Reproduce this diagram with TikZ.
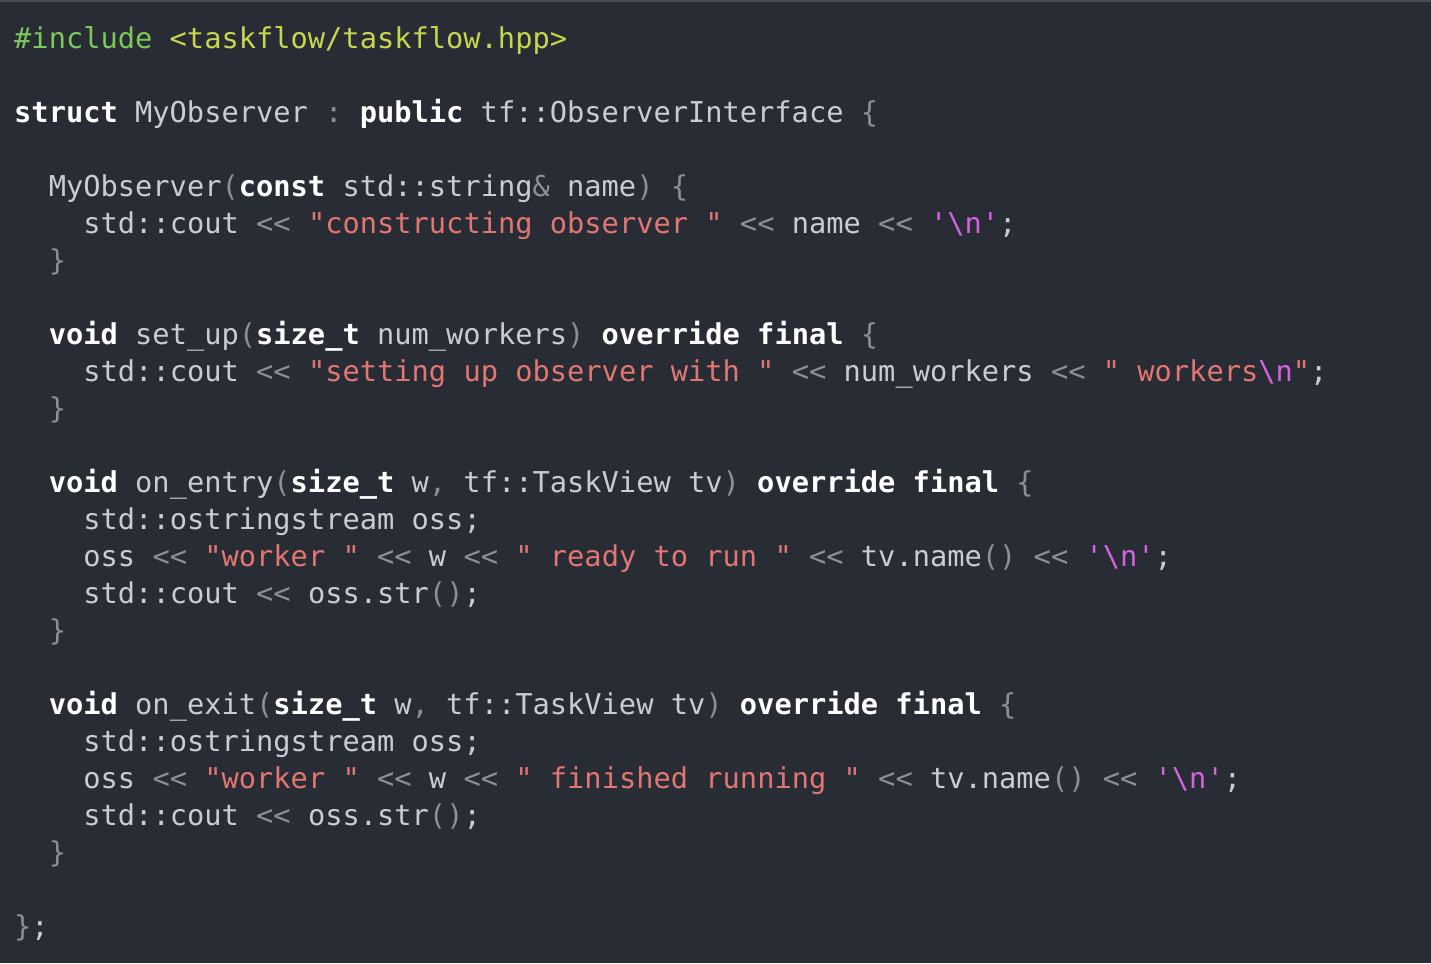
\documentclass[tikz,border=0pt]{standalone}
\usepackage{fontspec}
\newfontfamily\codefont{DejaVu Sans Mono}
\definecolor{bg}{HTML}{282C34}
\definecolor{fg}{HTML}{C8CCD4}
\definecolor{kwc}{HTML}{FFFFFF}
\definecolor{strc}{HTML}{E27672}
\definecolor{nlc}{HTML}{D563E0}
\definecolor{pnc}{HTML}{8A909A}
\definecolor{grn}{HTML}{7EC85A}
\definecolor{ylw}{HTML}{C8D64E}
\newcommand{\kw}[1]{{\bfseries\color{kwc}#1}}
\newcommand{\st}[1]{{\color{strc}#1}}
\newcommand{\nlx}[1]{{\color{nlc}#1}}
\newcommand{\pn}[1]{{\color{pnc}#1}}
\newcommand{\aq}{\symbol{39}}
\newcommand{\NL}{\nlx{\aq\textbackslash n\aq}}
\begin{document}
\begin{tikzpicture}[x=1pt,y=-1pt,
  ln/.style={anchor=base west,inner sep=0pt,font=\codefont\fontsize{28.7}{30}\selectfont\frenchspacing,text=fg}]
\fill[bg] (0,0) rectangle (1431,963);
\fill[bg!85!white] (0,0) rectangle (1431,2);
\def\cw{17.3}
\node[ln] (l1) at (14,49) {{\color{grn}\#include} {\color{ylw}<taskflow/taskflow.hpp>}};
\node[ln] (l2) at (14,122) {\kw{struct} MyObserver \pn{:} \kw{public} tf::ObserverInterface \pn{\{}};
\node[ln] (l3) at (14+2*\cw,196) {MyObserver\pn{(}\kw{const} std::string\pn{\&} name\pn{)} \pn{\{}};
\node[ln] (l4) at (14+4*\cw,233) {std::cout \pn{<<} \st{"constructing observer "} \pn{<<} name \pn{<<} \NL;};
\node[ln] (l5) at (14+2*\cw,270) {\pn{\}}};
\node[ln] (l6) at (14+2*\cw,344) {\kw{void} set\_up\pn{(}\kw{size\_t} num\_workers\pn{)} \kw{override} \kw{final} \pn{\{}};
\node[ln] (l7) at (14+4*\cw,381) {std::cout \pn{<<} \st{"setting up observer with "} \pn{<<} num\_workers \pn{<<} \st{" workers}\nlx{\textbackslash n}\st{"};};
\node[ln] (l8) at (14+2*\cw,418) {\pn{\}}};
\node[ln] (l9) at (14+2*\cw,492) {\kw{void} on\_entry\pn{(}\kw{size\_t} w\pn{,} tf::TaskView tv\pn{)} \kw{override} \kw{final} \pn{\{}};
\node[ln] (l10) at (14+4*\cw,529) {std::ostringstream oss;};
\node[ln] (l11) at (14+4*\cw,566) {oss \pn{<<} \st{"worker "} \pn{<<} w \pn{<<} \st{" ready to run "} \pn{<<} tv.name\pn{()} \pn{<<} \NL;};
\node[ln] (l12) at (14+4*\cw,603) {std::cout \pn{<<} oss.str\pn{()};};
\node[ln] (l13) at (14+2*\cw,640) {\pn{\}}};
\node[ln] (l14) at (14+2*\cw,714) {\kw{void} on\_exit\pn{(}\kw{size\_t} w\pn{,} tf::TaskView tv\pn{)} \kw{override} \kw{final} \pn{\{}};
\node[ln] (l15) at (14+4*\cw,751) {std::ostringstream oss;};
\node[ln] (l16) at (14+4*\cw,788) {oss \pn{<<} \st{"worker "} \pn{<<} w \pn{<<} \st{" finished running "} \pn{<<} tv.name\pn{()} \pn{<<} \NL;};
\node[ln] (l17) at (14+4*\cw,825) {std::cout \pn{<<} oss.str\pn{()};};
\node[ln] (l18) at (14+2*\cw,862) {\pn{\}}};
\node[ln] (l19) at (14,936) {\pn{\}};};
\end{tikzpicture}
\end{document}
